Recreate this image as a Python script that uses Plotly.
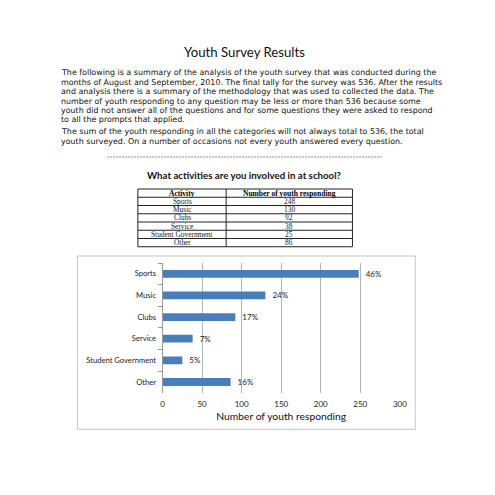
import plotly.graph_objects as go

activities = ['Sports', 'Music', 'Clubs', 'Service', 'Student Government', 'Other']
responding = [248, 130, 92, 38, 25, 86]
total_surveyed = 536
x_ticks = [0, 50, 100, 150, 200, 250, 300]
table_header = ['Activity', 'Number of youth responding']

page_title = 'Youth Survey Results'
para1 = [
    'The following is a summary of the analysis of the youth survey that was conducted during the',
    'months of August and September, 2010. The final tally for the survey was 536. After the results',
    'and analysis there is a summary of the methodology that was used to collected the data. The',
    'number of youth responding to any question may be less or more than 536 because some',
    'youth did not answer all of the questions and for some questions they were asked to respond',
    'to all the prompts that applied.',
]
para2 = [
    'The sum of the youth responding in all the categories will not always total to 536, the total',
    'youth surveyed. On a number of occasions not every youth answered every question.',
]
question = 'What activities are you involved in at school?'

# page body keeps its 8px margin, so the figure sits at (8, 8);
# keep it short enough that the page never gets scrollbars
OFF = 8
W = 495 - 2 * OFF
H = 460
BODY = 'Lato, Open Sans, sans-serif'
TEXT = 'DejaVu Sans, sans-serif'
SERIF = 'Liberation Serif, Times New Roman, serif'


def px(x):
    return (x - OFF) / W


def py(y):
    return 1 - (y - OFF) / H


pct = [f'\u2002{round(v / total_surveyed * 100)}%' for v in responding]

fig = go.Figure()

fig.add_trace(go.Bar(
    x=responding, y=activities, orientation='h',
    marker=dict(color='#4A7EBB', line=dict(width=0)),
    text=pct, textposition='outside', cliponaxis=False, constraintext='none',
    textfont=dict(family=BODY, size=8, color='#222'),
))

fig.update_layout(
    width=W, height=H, margin=dict(l=0, r=0, t=0, b=0),
    paper_bgcolor='white', plot_bgcolor='white', showlegend=False,
    bargap=0.64,
    font=dict(family=BODY, color='#111'),
    xaxis=dict(domain=[px(163.5), px(405.3)], range=[0, 300], tickvals=x_ticks,
               showgrid=True, gridcolor='#b4b4b4', gridwidth=1, zeroline=False,
               showline=False, ticks='', ticklabelstandoff=5,
               tickfont=dict(size=8, color='#222'),
               title=dict(text='Number of youth responding', font=dict(size=10.3, color='#111'),
                          standoff=4),
               fixedrange=True),
    yaxis=dict(domain=[py(392.8), py(263)], autorange='reversed', type='category',
               showline=True, linecolor='#9a9a9a', linewidth=1,
               ticks='outside', ticklen=4, tickcolor='#9a9a9a', tickson='boundaries',
               ticklabelstandoff=4, tickfont=dict(size=7.6, color='#222'),
               showgrid=False, fixedrange=True),
)

shapes = [
    dict(type='rect', xref='paper', yref='paper', x0=px(76.7), x1=px(421),
         y0=py(429.3), y1=py(256), line=dict(color='#c4c4c4', width=1)),
    dict(type='line', xref='paper', yref='paper', x0=px(107), x1=px(388),
         y0=py(157), y1=py(157), line=dict(color='#8a8a8a', width=1, dash='2px,1px')),
]

# table of counts (lines + text)
t_left, t_mid, t_right, t_top = 138.3, 228.3, 357, 189
row_h = 8.25
n_rows = len(activities) + 1
t_bottom = t_top + n_rows * row_h
shapes.append(dict(type='rect', xref='paper', yref='paper', x0=px(t_left), x1=px(t_right),
                   y0=py(t_bottom), y1=py(t_top), line=dict(color='#222', width=1)))
shapes.append(dict(type='line', xref='paper', yref='paper', x0=px(t_mid), x1=px(t_mid),
                   y0=py(t_bottom), y1=py(t_top), line=dict(color='#222', width=1)))
for r in range(1, n_rows):
    shapes.append(dict(type='line', xref='paper', yref='paper', x0=px(t_left), x1=px(t_right),
                       y0=py(t_top + r * row_h), y1=py(t_top + r * row_h),
                       line=dict(color='#222', width=1)))
fig.update_layout(shapes=shapes)

col_x = [(t_left + t_mid) / 2, (t_mid + t_right) / 2]
for c, head in enumerate(table_header):
    fig.add_annotation(text='<b>' + head + '</b>', x=px(col_x[c]), y=py(t_top + row_h / 2),
                       xref='paper', yref='paper', showarrow=False, yanchor='middle',
                       borderpad=0, font=dict(family=SERIF, size=7.5, color='black'))
for r, (act, num) in enumerate(zip(activities, responding)):
    yc = t_top + (r + 1.5) * row_h
    for c, val in enumerate([act, str(num)]):
        fig.add_annotation(text=val, x=px(col_x[c]), y=py(yc), xref='paper', yref='paper',
                           showarrow=False, yanchor='middle', borderpad=0,
                           font=dict(family=SERIF, size=7.4, color='#222'))

ann = [dict(text=page_title, x=px(247), y=py(52), size=13.2, xanchor='center', fam=BODY)]
for i, line in enumerate(para1):
    ann.append(dict(text=line, x=px(58.5), y=py(73 + i * 9.35), size=7.95, xanchor='left', fam=TEXT))
for i, line in enumerate(para2):
    ann.append(dict(text=line, x=px(58.5), y=py(131.8 + i * 10), size=7.95, xanchor='left', fam=TEXT))
ann.append(dict(text='<b>' + question + '</b>', x=px(247), y=py(175.5), size=9.7,
                xanchor='center', fam=BODY))

for a in ann:
    fig.add_annotation(text=a['text'], x=a['x'], y=a['y'], xref='paper', yref='paper',
                       xanchor=a['xanchor'], yanchor='middle', showarrow=False, borderpad=0,
                       font=dict(family=a['fam'], size=a['size'], color='#111'))

fig.write_html('out.html')
